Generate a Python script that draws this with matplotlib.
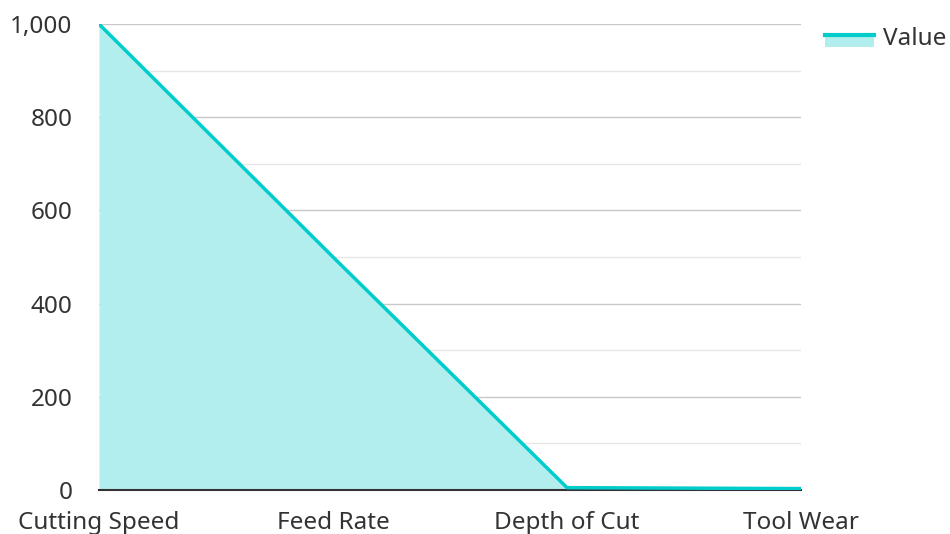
import matplotlib.pyplot as plt
from matplotlib.lines import Line2D
from matplotlib.patches import Rectangle
from matplotlib.legend_handler import HandlerBase

plt.rcParams['font.family'] = ['Noto Sans', 'DejaVu Sans']

categories = ['Cutting Speed', 'Feed Rate', 'Depth of Cut', 'Tool Wear']
values = [1000, 500, 5, 3]

line_color = '#00cccc'
fill_color = '#b2eeee'
text_color = '#333333'


class AreaHandler(HandlerBase):
    # legend key: filled box with the line along its top edge
    def create_artists(self, legend, orig_handle, xdescent, ydescent,
                       width, height, fontsize, trans):
        top = -ydescent + height * 0.6
        rect = Rectangle((-xdescent, top - height * 0.75), width, height * 0.75,
                         facecolor=fill_color, edgecolor='none', transform=trans)
        line = Line2D([-xdescent, -xdescent + width], [top, top],
                      color=line_color, lw=3, transform=trans)
        return [rect, line]


fig = plt.figure(figsize=(9.5, 5.34), dpi=100)
ax = fig.add_axes([0.1042, 0.0824, 0.7390, 0.8726])

x = list(range(len(categories)))
ax.fill_between(x, values, 0, color=fill_color, lw=0)
ax.plot(x, values, color=line_color, lw=2.5, solid_capstyle='butt', zorder=3)

ax.set_xlim(0, len(categories) - 1)
ax.set_ylim(0, 1000)
ax.set_yticks(range(0, 1001, 200))
ax.set_yticks(range(100, 1000, 200), minor=True)
ax.set_yticklabels([f'{v:,}' for v in range(0, 1001, 200)])
ax.set_xticks(x)
ax.set_xticklabels(categories)

ax.grid(axis='y', which='major', color='#c8c8c8', lw=1)
ax.grid(axis='y', which='minor', color='#e6e6e6', lw=1)
ax.set_axisbelow(True)

for side in ['left', 'right', 'top']:
    ax.spines[side].set_visible(False)
ax.spines['bottom'].set_color(text_color)
ax.spines['bottom'].set_linewidth(1.5)

ax.tick_params(axis='both', which='both', length=0, labelsize=17.5, colors=text_color)
ax.tick_params(axis='y', pad=19)
ax.tick_params(axis='x', pad=15)

handle = Rectangle((0, 0), 1, 1)
leg = ax.legend([handle], ['Value'], handler_map={Rectangle: AreaHandler()},
                loc='upper left', bbox_to_anchor=(1.003, 1.041), frameon=False,
                fontsize=17.5, handlelength=2.0, handletextpad=0.4)
for t in leg.get_texts():
    t.set_color(text_color)

fig.savefig('out.png', dpi=100)
